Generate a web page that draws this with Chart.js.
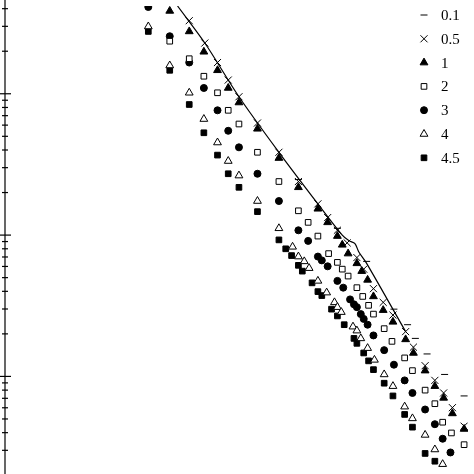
<!DOCTYPE html>
<html>
<head>
<meta charset="utf-8">
<script src="https://cdn.jsdelivr.net/npm/chart.js@4/dist/chart.umd.min.js"></script>
<style>
  html, body { margin:0; padding:0; background:#fff; }
  #wrap { width:474px; height:474px; }
</style>
</head>
<body>
<div id="wrap"><canvas id="c" width="474" height="474"></canvas></div>
<script>
// ====== Data (x in arbitrary units, y stored as log10 values) ======
const labels = ["0.1", "0.5", "1", "2", "3", "4", "4.5"];

const x01 = [300, 340, 370, 398, 412, 420, 432, 450, 470];
const e01 = [-0.607, -0.952, -1.186, -1.524, -1.634, -1.731, -1.841, -1.986, -2.138];

const x05 = [188, 204, 217, 228, 239, 258, 280, 300, 320, 330, 340, 350, 360, 367, 377, 387, 397, 410, 418, 430, 440, 449, 458, 470];
const e05 = [0.517, 0.359, 0.221, 0.097, -0.021, -0.207, -0.414, -0.621, -0.779, -0.876, -0.966, -1.055, -1.159, -1.241, -1.379, -1.476, -1.566, -1.683, -1.793, -1.924, -2.028, -2.117, -2.221, -2.352];

const x1 = [168, 188, 203, 217, 228, 239, 258, 280, 300, 320, 330, 340, 345, 351, 360, 365, 371, 377, 387, 397, 410, 418, 430, 440, 449, 458, 470];
const e1 = [0.586, 0.441, 0.297, 0.166, 0.041, -0.062, -0.248, -0.455, -0.662, -0.814, -0.910, -1.007, -1.069, -1.131, -1.200, -1.255, -1.317, -1.434, -1.531, -1.614, -1.738, -1.834, -1.959, -2.069, -2.152, -2.262, -2.372];

const x2 = [168, 188, 203, 217, 228, 239, 258, 280, 300, 310, 320, 331, 340, 345, 351, 360, 366, 372, 377, 388, 396, 409, 417, 430, 440, 448, 457, 470];
const e2 = [0.372, 0.248, 0.124, 0.007, -0.117, -0.214, -0.414, -0.621, -0.828, -0.910, -1.007, -1.131, -1.193, -1.241, -1.290, -1.372, -1.434, -1.497, -1.559, -1.662, -1.752, -1.869, -1.959, -2.097, -2.193, -2.324, -2.400, -2.483];

const x3 = [146, 168, 188, 203, 217, 228, 239, 258, 280, 300, 310, 320, 324, 330, 340, 346, 353, 357, 360, 364, 367, 371, 377, 388, 398, 409, 417, 430, 440, 448, 456];
const e3 = [0.614, 0.407, 0.221, 0.041, -0.117, -0.262, -0.379, -0.566, -0.759, -0.966, -1.041, -1.152, -1.179, -1.221, -1.324, -1.372, -1.455, -1.490, -1.510, -1.559, -1.593, -1.634, -1.710, -1.814, -1.917, -2.028, -2.117, -2.234, -2.338, -2.441, -2.538];

const x4 = [146, 168, 188, 203, 217, 228, 239, 258, 280, 294, 300, 306, 311, 320, 329, 337, 340, 344, 356, 360, 364, 371, 378, 388, 397, 409, 417, 430, 440, 448];
const e4 = [0.476, 0.200, 0.007, -0.179, -0.345, -0.476, -0.579, -0.759, -0.952, -1.083, -1.152, -1.186, -1.234, -1.324, -1.407, -1.476, -1.510, -1.545, -1.648, -1.676, -1.731, -1.800, -1.883, -1.986, -2.069, -2.214, -2.297, -2.414, -2.517, -2.621];

const x45 = [146, 168, 188, 203, 217, 228, 239, 258, 280, 287, 293, 300, 304, 314, 320, 324, 334, 340, 347, 357, 360, 367, 372, 377, 388, 397, 409, 417, 430, 440];
const e45 = [0.441, 0.166, -0.076, -0.276, -0.434, -0.566, -0.662, -0.834, -1.034, -1.097, -1.145, -1.214, -1.255, -1.338, -1.400, -1.428, -1.524, -1.572, -1.634, -1.731, -1.766, -1.834, -1.890, -1.952, -2.048, -2.138, -2.269, -2.359, -2.545, -2.600];

// solid fitted curve
const xLine = [176, 204, 239, 280, 320, 345, 352, 358, 362, 370, 410];
const eLine = [0.621, 0.359, -0.021, -0.414, -0.779, -1.000, -1.040, -1.060, -1.120, -1.200, -1.683];

// y axis range (log10)
const yMinExp = -2.648, yMaxExp = 0.621;

function pts(xs, es){ return xs.map((x,i)=>({x:x, y:Math.pow(10, es[i])})); }

const styles = [
  {ps:'line',     fill:'#000', r:3.5},
  {ps:'crossRot', fill:'#000', r:5},
  {ps:'triangle', fill:'#000', r:4.5},
  {ps:'rect',     fill:'#fff', r:4},
  {ps:'circle',   fill:'#000', r:3.5},
  {ps:'triangle', fill:'#fff', r:4.5},
  {ps:'rect',     fill:'#000', r:4}
];
const series = [[x01,e01],[x05,e05],[x1,e1],[x2,e2],[x3,e3],[x4,e4],[x45,e45]];

const datasets = series.map((s,i)=>({
  label: labels[i],
  data: pts(s[0], s[1]),
  showLine: false,
  pointStyle: styles[i].ps,
  pointRadius: styles[i].r,
  pointBackgroundColor: styles[i].fill,
  pointBorderColor: '#000',
  pointBorderWidth: 1
}));
datasets.push({
  label: 'fit', data: pts(xLine, eLine), showLine: true, pointRadius: 0,
  borderColor: '#000', borderWidth: 1.2, tension: 0.3
});

// axis line + ticks on the left edge
const axisPlugin = {
  id: 'axisPlugin',
  afterDraw(chart){
    const ctx = chart.ctx, ys = chart.scales.y;
    const ax = 5;
    ctx.save();
    ctx.strokeStyle = '#000'; ctx.lineWidth = 1.2;
    ctx.beginPath(); ctx.moveTo(ax, 0); ctx.lineTo(ax, 474); ctx.stroke();
    for (let d = -3; d <= 1; d++) {
      for (let m = 1; m <= 9; m++) {
        const py = ys.getPixelForValue(m * Math.pow(10, d));
        if (py < 0 || py > 474) continue;
        const len = m === 1 ? 6 : 3;
        ctx.beginPath(); ctx.moveTo(ax - len, py); ctx.lineTo(ax + len, py); ctx.stroke();
      }
    }
    ctx.restore();
  }
};

// legend drawn at top right
const legendPlugin = {
  id: 'legendPlugin',
  afterDraw(chart){
    const ctx = chart.ctx;
    ctx.save();
    ctx.font = '15px "Liberation Serif", "DejaVu Serif", serif';
    ctx.textBaseline = 'middle';
    labels.forEach((lab,i)=>{
      const y = 15 + i * 23.8;
      ctx.fillStyle = styles[i].fill; ctx.strokeStyle = '#000'; ctx.lineWidth = 1;
      Chart.helpers.drawPoint(ctx, {pointStyle: styles[i].ps, radius: styles[i].r, rotation: 0, borderWidth: 1}, 424, y);
      ctx.fillStyle = '#000';
      ctx.fillText(lab, 441, y + 1);
    });
    ctx.restore();
  }
};

new Chart(document.getElementById('c'), {
  type: 'scatter',
  data: { datasets },
  options: {
    responsive: false, animation: false,
    layout: { padding: 0 },
    plugins: { legend: { display: false }, tooltip: { enabled: false } },
    scales: {
      x: { type: 'linear', min: 0, max: 474, display: false },
      y: { type: 'logarithmic', min: Math.pow(10, yMinExp), max: Math.pow(10, yMaxExp), display: false }
    }
  },
  plugins: [axisPlugin, legendPlugin]
});
</script>
</body>
</html>
